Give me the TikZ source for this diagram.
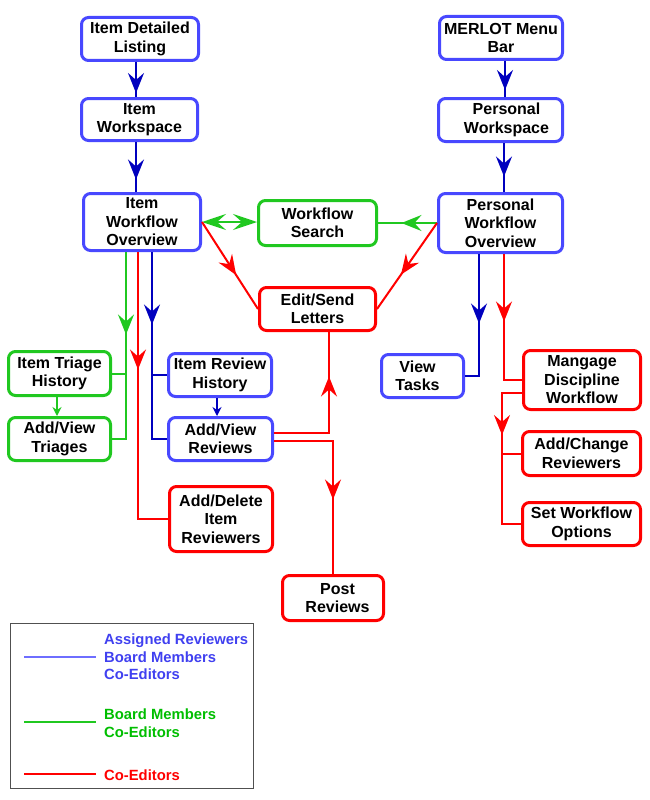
\documentclass[tikz,border=0pt]{standalone}
\usepackage{fontspec}
\setmainfont{Liberation Sans}
\usetikzlibrary{arrows.meta,decorations.markings,calc}
\definecolor{boxblue}{RGB}{72,72,255}
\definecolor{boxgreen}{RGB}{32,200,32}
\definecolor{boxred}{RGB}{255,0,0}
\definecolor{arrblue}{RGB}{0,0,190}
\definecolor{legblue}{RGB}{64,64,240}
\definecolor{leglineblue}{RGB}{110,110,255}
\definecolor{leggreen}{RGB}{0,190,0}
\definecolor{leggray}{RGB}{80,80,80}
\tikzset{
  BigTip/.tip={Stealth[length=20pt,width=16pt,inset=7pt]},
  DblTip/.tip={Stealth[length=24pt,width=16pt,inset=9pt]},
  SmallTip/.tip={Stealth[length=9pt,width=9pt,inset=3pt]},
  sz/.style 2 args={minimum width=#1pt,minimum height=#2pt},
  box/.style={rectangle,rounded corners=7pt,line width=3pt,fill=white,align=center,
    inner sep=0pt,font=\fontsize{16}{18.5}\selectfont\bfseries},
  bbox/.style={box,draw=boxblue},
  gbox/.style={box,draw=boxgreen},
  rbox/.style={box,draw=boxred},
  bconn/.style={line width=2pt,draw=arrblue,color=arrblue},
  gconn/.style={line width=2pt,draw=boxgreen,color=boxgreen},
  rconn/.style={line width=2pt,draw=boxred,color=boxred},
  midarr/.style={postaction={decorate},decoration={markings,mark=at position #1 with {\arrow{BigTip}}}},
  legfont/.style={font=\fontsize{14.8}{17.5}\selectfont\bfseries,inner sep=0pt,align=left,anchor=west},
}
\begin{document}
\begin{tikzpicture}[x=1pt,y=-1pt]
\useasboundingbox (0,0) rectangle (650,800);

% nodes
\node[bbox,sz={117}{43}] (idl) at (140,39) {Item Detailed\\Listing};
\node[bbox,sz={116}{42}] (iws) at (139.5,119.5) {Item\\Workspace};
\node[bbox,sz={117}{57}] (iwo) at (142,222) {Item\\Workflow\\Overview};
\node[gbox,sz={118}{45}] (wfs) at (317.5,223) {Workflow\\Search};
\node[bbox,sz={123}{43}] (mmb) at (501,38) {MERLOT Menu\\Bar};
\node[bbox,sz={124}{43}] (pws) at (500.5,120) {\hspace*{12pt}Personal\\\hspace*{12pt}Workspace};
\node[bbox,sz={124}{59}] (pwo) at (500.5,223) {Personal\\Workflow\\Overview};
\node[rbox,sz={116}{43}] (esl) at (317.5,309) {Edit/Send\\Letters};
\node[gbox,sz={102}{44}] (ith) at (59.5,373.5) {Item Triage\\History};
\node[gbox,sz={102}{43}] (avt) at (59.5,439) {Add/View\\Triages};
\node[bbox,sz={103}{43}] (irh) at (220,375) {Item Review\\History};
\node[bbox,sz={104}{43}] (avr) at (220.5,439) {Add/View\\Reviews};
\node[bbox,sz={82}{43}] (vt) at (422.5,376) {View\hspace*{10pt}\\Tasks\hspace*{10pt}};
\node[rbox,sz={117}{59}] (mdw) at (582,380) {Mangage\\Discipline\\Workflow};
\node[rbox,sz={118}{44}] (acr) at (581.5,453.5) {Add/Change\\Reviewers};
\node[rbox,sz={118}{43}] (swo) at (581.5,524) {Set Workflow\\Options};
\node[rbox,sz={103}{65}] (adr) at (221,519) {Add/Delete\\Item\\Reviewers};
\node[rbox,sz={101}{45}] (pr) at (333,598) {\hspace*{9pt}Post\\\hspace*{9pt}Reviews};

% helper coordinates
\coordinate (a1) at ([xshift=-4pt]idl.south);
\coordinate (a2) at ([xshift=-3.5pt]iws.south);
\coordinate (a3) at ([xshift=4pt]mmb.south);
\coordinate (a4) at ([xshift=3.5pt]pws.south);
\coordinate (gx) at ([xshift=-16pt]iwo.south);
\coordinate (rx) at ([xshift=-4pt]iwo.south);
\coordinate (bx) at ([xshift=10pt]iwo.south);
\coordinate (t1) at ([xshift=-2.5pt]ith.south);
\coordinate (r1) at ([xshift=-3pt]irh.south);
\coordinate (e1) at ([yshift=6pt]avr.east);
\coordinate (e2) at ([xshift=11.5pt]esl.south);
\coordinate (p1) at ([yshift=-2pt]avr.east);
\coordinate (v1) at ([xshift=-21.5pt]pwo.south);
\coordinate (m1) at ([xshift=3.5pt]pwo.south);
\coordinate (m2) at ([yshift=-13pt]mdw.west);
\coordinate (m3) at ([xshift=-20pt]m2);

% connectors
\draw[bconn,midarr=31pt] (a1) -- (a1 |- iws.north);
\draw[bconn,midarr=37.5pt] (a2) -- (a2 |- iwo.north);
\draw[bconn,midarr=29pt] (a3) -- (a3 |- pws.north);
\draw[bconn,midarr=33.5pt] (a4) -- (a4 |- pwo.north);

\draw[gconn,DblTip-DblTip] (iwo.east) -- (iwo.east -| wfs.west);
\draw[gconn,midarr=35.5pt] (pwo.west) -- (pwo.west -| wfs.east);
\draw[rconn,midarr=0.61] (iwo.east) -- (esl.west);
\draw[rconn,midarr=0.6] (pwo.west) -- (esl.east);

\draw[gconn,midarr=82.5pt] (gx) |- (avt.east);
\draw[gconn] (ith.east) -- (ith.east -| gx);
\draw[rconn,midarr=117.5pt] (rx) |- (adr.west);
\draw[bconn,midarr=72.5pt] (bx) |- (avr.west);
\draw[bconn] (irh.west) -- (irh.west -| bx);

\draw[gconn,-SmallTip] (t1) -- (t1 |- avt.north);
\draw[bconn,-SmallTip] (r1) -- (r1 |- avr.north);

\draw[rconn,midarr=111.5pt] (e1) -| (e2);
\draw[rconn,midarr=117.5pt] (p1) -| (pr.north);

\draw[bconn,midarr=69.5pt] (v1) |- (vt.east);
\draw[rconn,midarr=67.5pt] (m1) |- (mdw.west);
\draw[rconn,midarr=62pt] (m2) -- (m3) |- (swo.west);
\draw[rconn] (acr.west) -- (acr.west -| m3);

% legend
\node[draw=leggray,line width=1pt,minimum width=243pt,minimum height=165pt,inner sep=0pt] (legend) at (131.5,705.5) {};
\draw[line width=2pt,leglineblue] (24,657) -- (96,657);
\draw[line width=2pt,boxgreen] (24,722) -- (96,722);
\draw[line width=2pt,boxred] (24,774) -- (96,774);
\node[legfont,text=legblue] (lgb) at (104,657) {Assigned Reviewers\\Board Members\\Co-Editors};
\node[legfont,text=leggreen] (lgg) at (104,723) {Board Members\\Co-Editors};
\node[legfont,text=boxred] (lgr) at (104,775) {Co-Editors};
\end{tikzpicture}
\end{document}
